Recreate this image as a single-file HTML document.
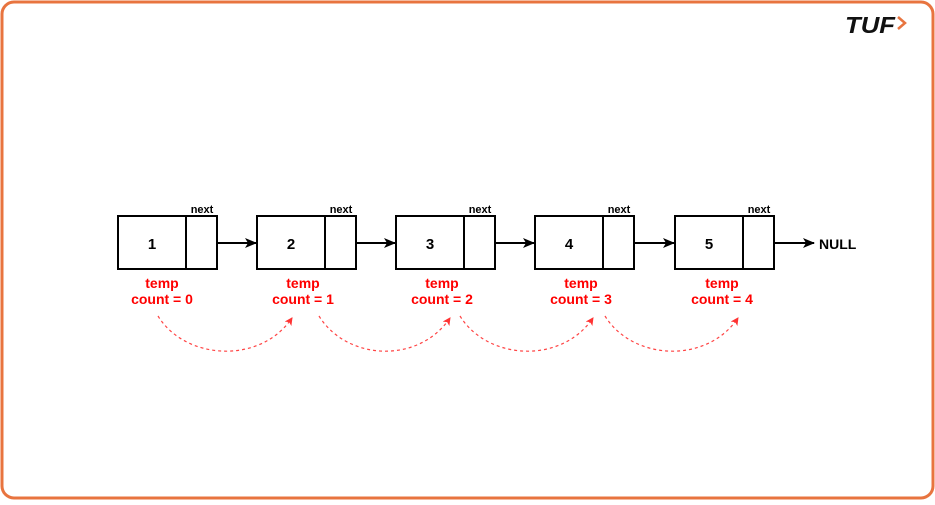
<!DOCTYPE html>
<html><head><style>body{margin:0;background:#fff}</style></head><body>
<svg width="935" height="500" xmlns="http://www.w3.org/2000/svg" font-family="Liberation Sans, Arial, sans-serif">
<defs>
<marker id="a" markerWidth="12" markerHeight="12" refX="11" refY="6" orient="auto" markerUnits="userSpaceOnUse"><path d="M0,1 L12,6 L0,11 L3,6 z" fill="#000"/></marker>
<marker id="r" markerWidth="8" markerHeight="8" refX="7" refY="4" orient="auto" markerUnits="userSpaceOnUse"><path d="M0,0 L8,4 L0,8 L2,4 z" fill="#f33"/></marker>
</defs>
<rect x="2" y="2" width="931" height="496" rx="12" fill="#fff" stroke="#e8743f" stroke-width="3"/>
<text x="845" y="33" font-size="23" font-weight="bold" font-style="italic" fill="#111" textLength="50" lengthAdjust="spacingAndGlyphs">TUF</text>
<path d="M898,17 L905,23 L898,29" fill="none" stroke="#e8743f" stroke-width="2.5"/>
<g stroke="#000" stroke-width="2" fill="none">
<rect x="118" y="216" width="99" height="53"/><line x1="186" y1="216" x2="186" y2="269"/>
<rect x="257" y="216" width="99" height="53"/><line x1="325" y1="216" x2="325" y2="269"/>
<rect x="396" y="216" width="99" height="53"/><line x1="464" y1="216" x2="464" y2="269"/>
<rect x="535" y="216" width="99" height="53"/><line x1="603" y1="216" x2="603" y2="269"/>
<rect x="675" y="216" width="99" height="53"/><line x1="743" y1="216" x2="743" y2="269"/>
<line x1="217" y1="243" x2="256" y2="243" marker-end="url(#a)"/>
<line x1="356" y1="243" x2="395" y2="243" marker-end="url(#a)"/>
<line x1="495" y1="243" x2="534" y2="243" marker-end="url(#a)"/>
<line x1="634" y1="243" x2="674" y2="243" marker-end="url(#a)"/>
<line x1="774" y1="243" x2="814" y2="243" marker-end="url(#a)"/>
</g>
<g font-size="15" font-weight="bold" text-anchor="middle" fill="#000">
<text x="152" y="249">1</text><text x="291" y="249">2</text><text x="430" y="249">3</text><text x="569" y="249">4</text><text x="709" y="249">5</text>
</g>
<text x="819" y="249" font-size="14" font-weight="bold">NULL</text>
<g font-size="11" font-weight="bold" text-anchor="middle">
<text x="202" y="213">next</text><text x="341" y="213">next</text><text x="480" y="213">next</text><text x="619" y="213">next</text><text x="759" y="213">next</text>
</g>
<g font-size="14" font-weight="bold" text-anchor="middle" fill="#f00">
<text x="162" y="288">temp</text><text x="162" y="304">count = 0</text>
<text x="303" y="288">temp</text><text x="303" y="304">count = 1</text>
<text x="442" y="288">temp</text><text x="442" y="304">count = 2</text>
<text x="581" y="288">temp</text><text x="581" y="304">count = 3</text>
<text x="722" y="288">temp</text><text x="722" y="304">count = 4</text>
</g>
<g fill="none" stroke="#f44" stroke-width="1.2" stroke-dasharray="3,3">
<path d="M158,316 C185,360 260,365 292,318" marker-end="url(#r)"/>
<path d="M319,316 C346,360 418,365 450,318" marker-end="url(#r)"/>
<path d="M460,316 C487,360 561,365 593,318" marker-end="url(#r)"/>
<path d="M605,316 C632,360 706,365 738,318" marker-end="url(#r)"/>
</g>
</svg>
</body></html>
